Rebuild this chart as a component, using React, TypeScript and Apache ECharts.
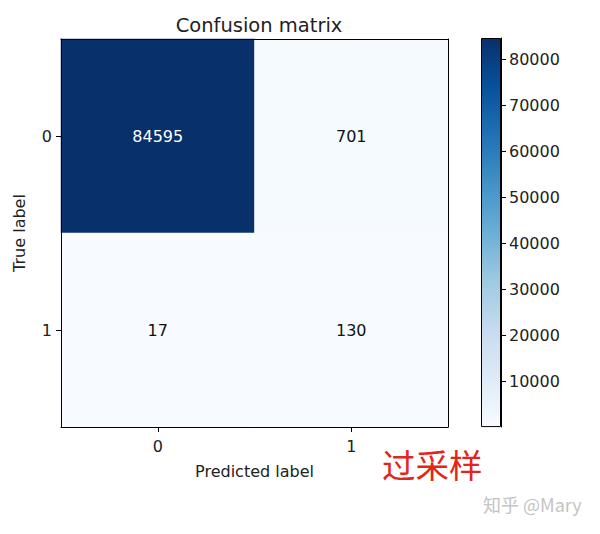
import React, { useEffect, useRef } from "react";
import * as echarts from "echarts";

const predictedLabels = ["0", "1"];
const trueLabels = ["0", "1"];
// rows: true label, columns: predicted label
const counts = [
  [84595, 701],
  [17, 130],
];
const colorbarTicks = [10000, 20000, 30000, 40000, 50000, 60000, 70000, 80000];
const titleText = "Confusion matrix";
const xName = "Predicted label";
const yName = "True label";
const annotation = "过采样";
const watermark = "知乎 @Mary";

const blues = ["#f7fbff", "#deebf7", "#c6dbef", "#9ecae1", "#6baed6", "#4292c6", "#2171b5", "#08519c", "#08306b"];

const FONT = "DejaVu Sans";

export default function App() {
  const ref = useRef<HTMLDivElement>(null);
  useEffect(() => {
    if (!ref.current) return;
    const chart = echarts.init(ref.current, null, { renderer: "svg" });
    const all = counts.flat();
    const vmin = Math.min(...all);
    const vmax = Math.max(...all);
    const thresh = vmax / 2;
    const data: any[] = [];
    counts.forEach((row, i) =>
      row.forEach((v, j) => {
        data.push([j, i, v]);
      })
    );
    const text = { fontFamily: FONT, fontSize: 16, color: "#222" };
    chart.setOption({
      animation: false,
      backgroundColor: "#fff",
      textStyle: { fontFamily: FONT },
      title: {
        text: titleText,
        left: 254,
        top: 10,
        textAlign: "center",
        textStyle: { fontFamily: FONT, fontSize: 19.5, fontWeight: "normal", color: "#222" },
      },
      grid: [
        { left: 61, top: 39, width: 387, height: 388 },
        { left: 481, top: 38, width: 20, height: 389 },
      ],
      visualMap: {
        show: false,
        type: "continuous",
        min: vmin,
        max: vmax,
        seriesIndex: 0,
        dimension: 2,
        inRange: { color: blues },
      },
      xAxis: [
        {
          type: "category",
          gridIndex: 0,
          data: predictedLabels,
          z: 10,
          name: xName,
          nameLocation: "middle",
          nameGap: 36,
          nameTextStyle: text,
          axisLine: { show: true, lineStyle: { color: "#000", width: 1 } },
          axisTick: { show: true, alignWithLabel: true, length: 5, lineStyle: { color: "#000" } },
          axisLabel: { ...text, margin: 11 },
          splitLine: { show: false },
        },
        {
          type: "category",
          gridIndex: 0,
          data: predictedLabels,
          position: "top",
          z: 10,
          axisLine: { show: true, lineStyle: { color: "#000", width: 1 } },
          axisTick: { show: false },
          axisLabel: { show: false },
        },
        {
          type: "category",
          gridIndex: 1,
          data: [""],
          show: false,
        },
      ],
      yAxis: [
        {
          type: "category",
          gridIndex: 0,
          data: trueLabels,
          inverse: true,
          z: 10,
          name: yName,
          nameLocation: "middle",
          nameGap: 34,
          nameRotate: 90,
          nameTextStyle: text,
          axisLine: { show: true, lineStyle: { color: "#000", width: 1 } },
          axisTick: { show: true, alignWithLabel: true, length: 5, lineStyle: { color: "#000" } },
          axisLabel: { ...text, margin: 9 },
          splitLine: { show: false },
        },
        {
          type: "category",
          gridIndex: 0,
          data: trueLabels,
          inverse: true,
          position: "right",
          z: 10,
          axisLine: { show: true, lineStyle: { color: "#000", width: 1 } },
          axisTick: { show: false },
          axisLabel: { show: false },
        },
        {
          type: "value",
          gridIndex: 1,
          min: vmin,
          max: vmax,
          position: "right",
          z: 10,
          axisLine: { show: true, lineStyle: { color: "#000" } },
          axisTick: { show: true, length: 5, customValues: colorbarTicks, lineStyle: { color: "#000" } },
          axisLabel: { ...text, margin: 8, customValues: colorbarTicks, formatter: (v: number) => String(v) },
          splitLine: { show: false },
        },
      ],
      series: [
        {
          type: "heatmap",
          xAxisIndex: 0,
          yAxisIndex: 0,
          data,
          label: {
            show: true,
            fontFamily: FONT,
            fontSize: 16,
            formatter: (p: any) => {
              const v = p.value[2];
              return v > thresh ? `{w|${v}}` : `{b|${v}}`;
            },
            rich: {
              w: { color: "#fff", fontFamily: FONT, fontSize: 16 },
              b: { color: "#111", fontFamily: FONT, fontSize: 16 },
            },
          },
          itemStyle: { borderWidth: 0 },
          emphasis: { disabled: true },
        },
        {
          type: "bar",
          xAxisIndex: 2,
          yAxisIndex: 2,
          data: [vmax],
          barWidth: "100%",
          silent: true,
          itemStyle: {
            borderColor: "#000",
            borderWidth: 1,
            color: new echarts.graphic.LinearGradient(
              0,
              1,
              0,
              0,
              blues.map((c, i) => ({ offset: i / (blues.length - 1), color: c }))
            ),
          },
        },
      ],
      graphic: [
        {
          type: "text",
          left: 382,
          top: 447,
          style: { text: annotation, fontFamily: "Noto Sans CJK SC", fontSize: 33.5, fill: "#e3261c" },
        },
        {
          type: "text",
          left: 483,
          top: 495,
          style: { text: watermark, fontFamily: "Noto Sans CJK SC", fontSize: 18, fill: "#c4c4c4" },
        },
      ],
    });
    return () => chart.dispose();
  }, []);
  return <div ref={ref} style={{ position: "fixed", left: 0, top: 0, width: 600, height: 534 }} />;
}
